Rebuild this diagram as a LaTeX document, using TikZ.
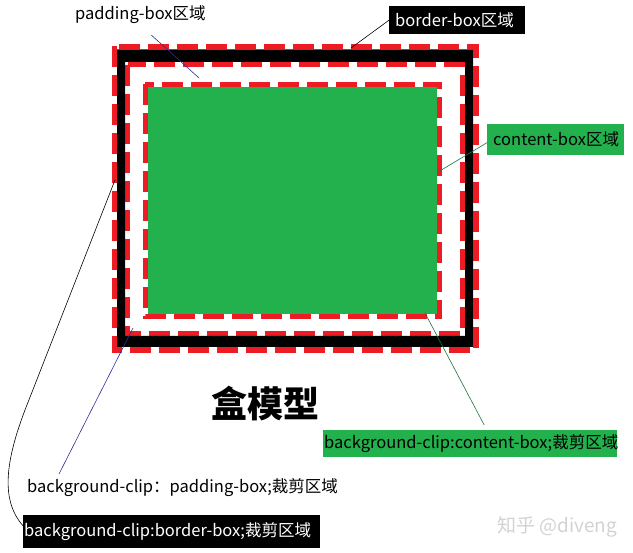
\documentclass[tikz,border=0pt]{standalone}
\usepackage{fontspec}
\setmainfont{Noto Sans CJK SC}
\definecolor{boxred}{RGB}{237,28,36}
\definecolor{boxgreen}{RGB}{34,177,76}
\definecolor{linenavy}{RGB}{45,45,150}
\definecolor{linegreen}{RGB}{30,115,60}
\begin{document}
\begin{tikzpicture}[x=1pt, y=-1pt,
    reddash/.style={boxred, line width=5pt, dash pattern=on 21pt off 8pt},
    lbl/.style={font=\fontsize{16.5}{18}\selectfont, inner sep=0pt},
    tagbox/.style={lbl, anchor=north west, minimum height=28pt, inner xsep=6pt},
    pointer/.style={line width=0.6pt}]
    \useasboundingbox (0,0) rectangle (633,553);

    \coordinate (padtip) at (199,78);
    \coordinate (bordtip) at (351,48);
    \coordinate (conttip) at (438,172);
    \coordinate (cliptip) at (425,313);
    \coordinate (padcliptip) at (133,328);
    \coordinate (bordcliptip) at (115,180);

    \fill[boxgreen] (147.5,87) rectangle (437,314);
    \draw[reddash] (145,84.5) rectangle (439.5,316.5);
    \draw[reddash] (127.5,65) rectangle (462.5,333.5);
    \fill[black, even odd rule] (117,49.5) rectangle (473,347) (125,62) rectangle (465,336);
    \draw[reddash, line width=5.5pt] (114.5,46.5) rectangle (476,350);

    \node[lbl, anchor=west] (padlbl) at (75,15) {padding-box区域};
    \node[tagbox, fill=black, text=white] (bordlbl) at (389,6) {\makebox[124pt][l]{border-box区域}};
    \node[tagbox, fill=boxgreen, minimum height=31pt] (contlbl) at (487,124) {\makebox[125pt][l]{content-box区域}};
    \node[font=\fontsize{36}{40}\selectfont\bfseries] (title) at (265,403) {盒模型};
    \node[tagbox, fill=boxgreen, minimum height=27pt, inner xsep=1pt] (clipcont) at (323,430) {\makebox[292pt][l]{background-clip:content-box;裁剪区域}};
    \node[lbl, anchor=west] (clippad) at (27,488) {background-clip：padding-box;裁剪区域};
    \node[tagbox, fill=black, text=white, minimum height=33pt, inner xsep=1pt] (clipbord) at (23,515) {\makebox[295pt][l]{background-clip:border-box;裁剪区域}};
    \node[font=\fontsize{19}{22}\selectfont, text=gray!35] (mark) at (557,527) {知乎 @diveng};

    \draw[pointer, linenavy] ([xshift=11pt,yshift=-11pt]padlbl.south) -- (padtip);
    \draw[pointer, black] (bordlbl.west) -- (bordtip);
    \draw[pointer, linegreen] ([yshift=-3pt]contlbl.west) -- (conttip);
    \draw[pointer, linegreen] ([xshift=14pt,yshift=5pt]clipcont.north) -- (cliptip);
    \draw[pointer, linenavy] ([xshift=32pt,yshift=14pt]clippad.west) -- (padcliptip);
    \draw[pointer, black] (bordcliptip) -- (25,410) .. controls (6,460) and (0,500) .. ([yshift=6pt]clipbord.west);
\end{tikzpicture}
\end{document}
